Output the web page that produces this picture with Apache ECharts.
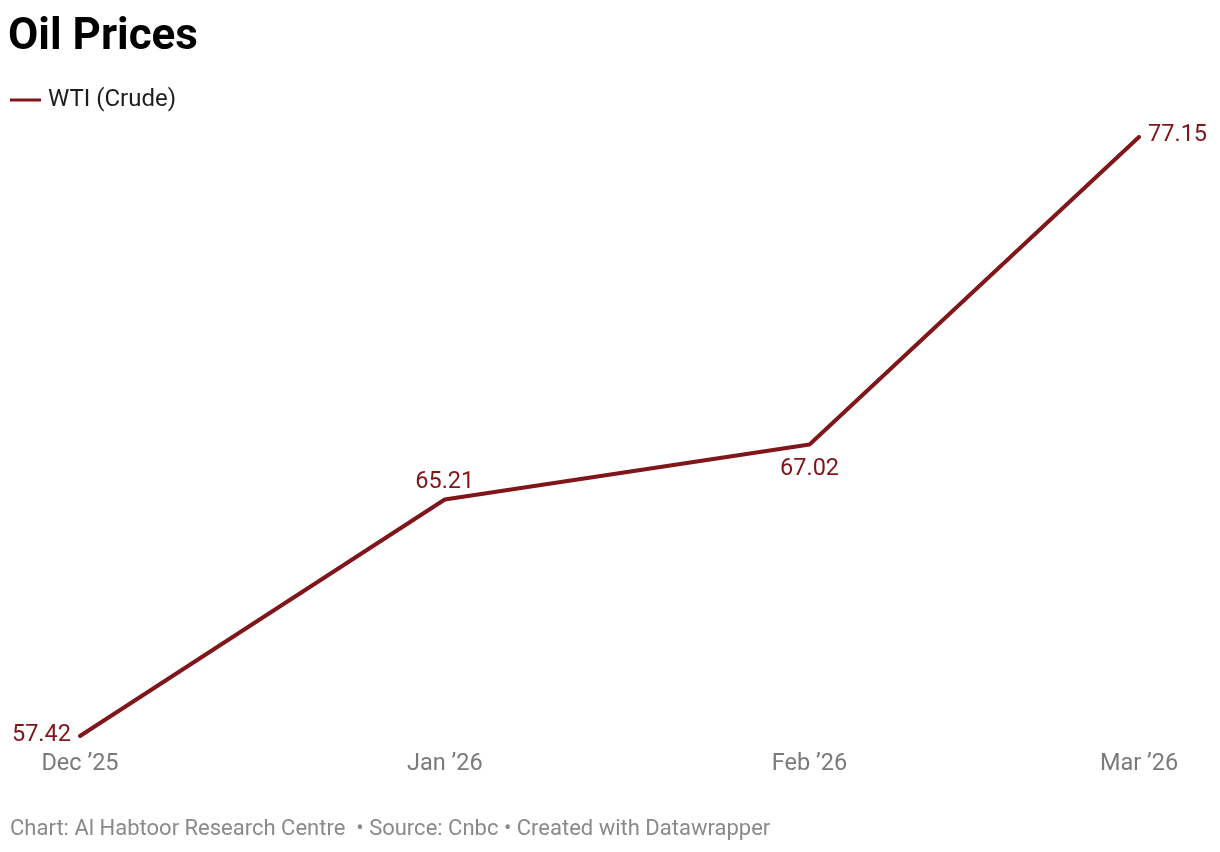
<!DOCTYPE html>
<html>
<head>
<meta charset="utf-8">
<title>Oil Prices</title>
<script src="https://cdn.jsdelivr.net/npm/echarts@6/dist/echarts.min.js"></script>
<style>
  html, body { margin: 0; padding: 0; background: #fff; }
  #chart { width: 1220px; height: 852px; }
</style>
</head>
<body>
<div id="chart"></div>
<script>
// data
const dates = ['2025-12-01', '2026-01-01', '2026-02-01', '2026-03-01']
const tickLabels = ['Dec \u201925', 'Jan \u201926', 'Feb \u201926', 'Mar \u201926']
const wti = [57.42, 65.21, 67.02, 77.15]

const RED = '#80151a'
const FONT = 'Roboto, "Noto Sans", sans-serif'

// label placement per point (left, above, below, right)
const labelStyle = [
  { position: 'left', distance: 9, offset: [0, -1] },
  { position: 'top', distance: 5 },
  { position: 'bottom', distance: 13 },
  { position: 'right', distance: 9, offset: [0, -2] }
]

// days since first date, so months keep their real spacing
const DAY = 24 * 3600 * 1000
const t0 = Date.UTC(2025, 11, 1)
const days = dates.map(d => {
  const [y, m, dd] = d.split('-').map(Number)
  return Math.round((Date.UTC(y, m - 1, dd) - t0) / DAY)
})
const seriesData = wti.map((v, i) => ({
  value: [days[i], v],
  label: labelStyle[i]
}))

const chart = echarts.init(document.getElementById('chart'), null, { renderer: 'canvas' })
chart.setOption({
  animation: false,
  backgroundColor: '#fff',
  title: [{
    text: 'Oil Prices',
    left: 8,
    top: 16,
    padding: 0,
    textStyle: { fontFamily: FONT, fontSize: 44, fontWeight: 'bold', color: '#000' }
  }, {
    text: 'Chart: Al Habtoor Research Centre  \u2022 Source: Cnbc \u2022 Created with Datawrapper',
    left: 10,
    top: 818,
    padding: 0,
    textStyle: { fontFamily: FONT, fontSize: 22, fontWeight: 'normal', color: '#8a8a8a' }
  }],
  legend: {
    left: 10,
    top: 88,
    padding: 0,
    icon: 'rect',
    itemWidth: 31,
    itemHeight: 3,
    itemGap: 20,
    textStyle: { fontFamily: FONT, fontSize: 24, color: '#1d1d1d', padding: [0, 0, 0, 2] },
    data: ['WTI (Crude)']
  },
  grid: {
    left: 80,
    right: 81,
    top: 137,
    bottom: 116,
    outerBoundsMode: 'none'
  },
  xAxis: {
    type: 'value',
    min: days[0],
    max: days[days.length - 1],
    axisLine: { show: false },
    axisTick: { show: false },
    splitLine: { show: false },
    axisLabel: {
      customValues: days,
      showMinLabel: true,
      showMaxLabel: true,
      hideOverlap: false,
      margin: 16,
      fontFamily: FONT,
      fontSize: 23.5,
      color: '#7a7a7a',
      formatter: val => {
        const i = days.indexOf(val)
        return i >= 0 ? tickLabels[i] : ''
      }
    }
  },
  yAxis: {
    type: 'value',
    min: Math.min(...wti),
    max: Math.max(...wti),
    show: false,
    splitLine: { show: false }
  },
  series: [{
    name: 'WTI (Crude)',
    type: 'line',
    data: seriesData,
    color: RED,
    symbol: 'circle',
    symbolSize: 0.1,
    showSymbol: true,
    lineStyle: { color: RED, width: 4, join: 'round', cap: 'round' },
    itemStyle: { color: RED },
    label: {
      show: true,
      fontFamily: FONT,
      fontSize: 23.5,
      color: RED,
      formatter: p => p.value[1].toFixed(2)
    },
    emphasis: { disabled: true }
  }]
})
</script>
</body>
</html>
